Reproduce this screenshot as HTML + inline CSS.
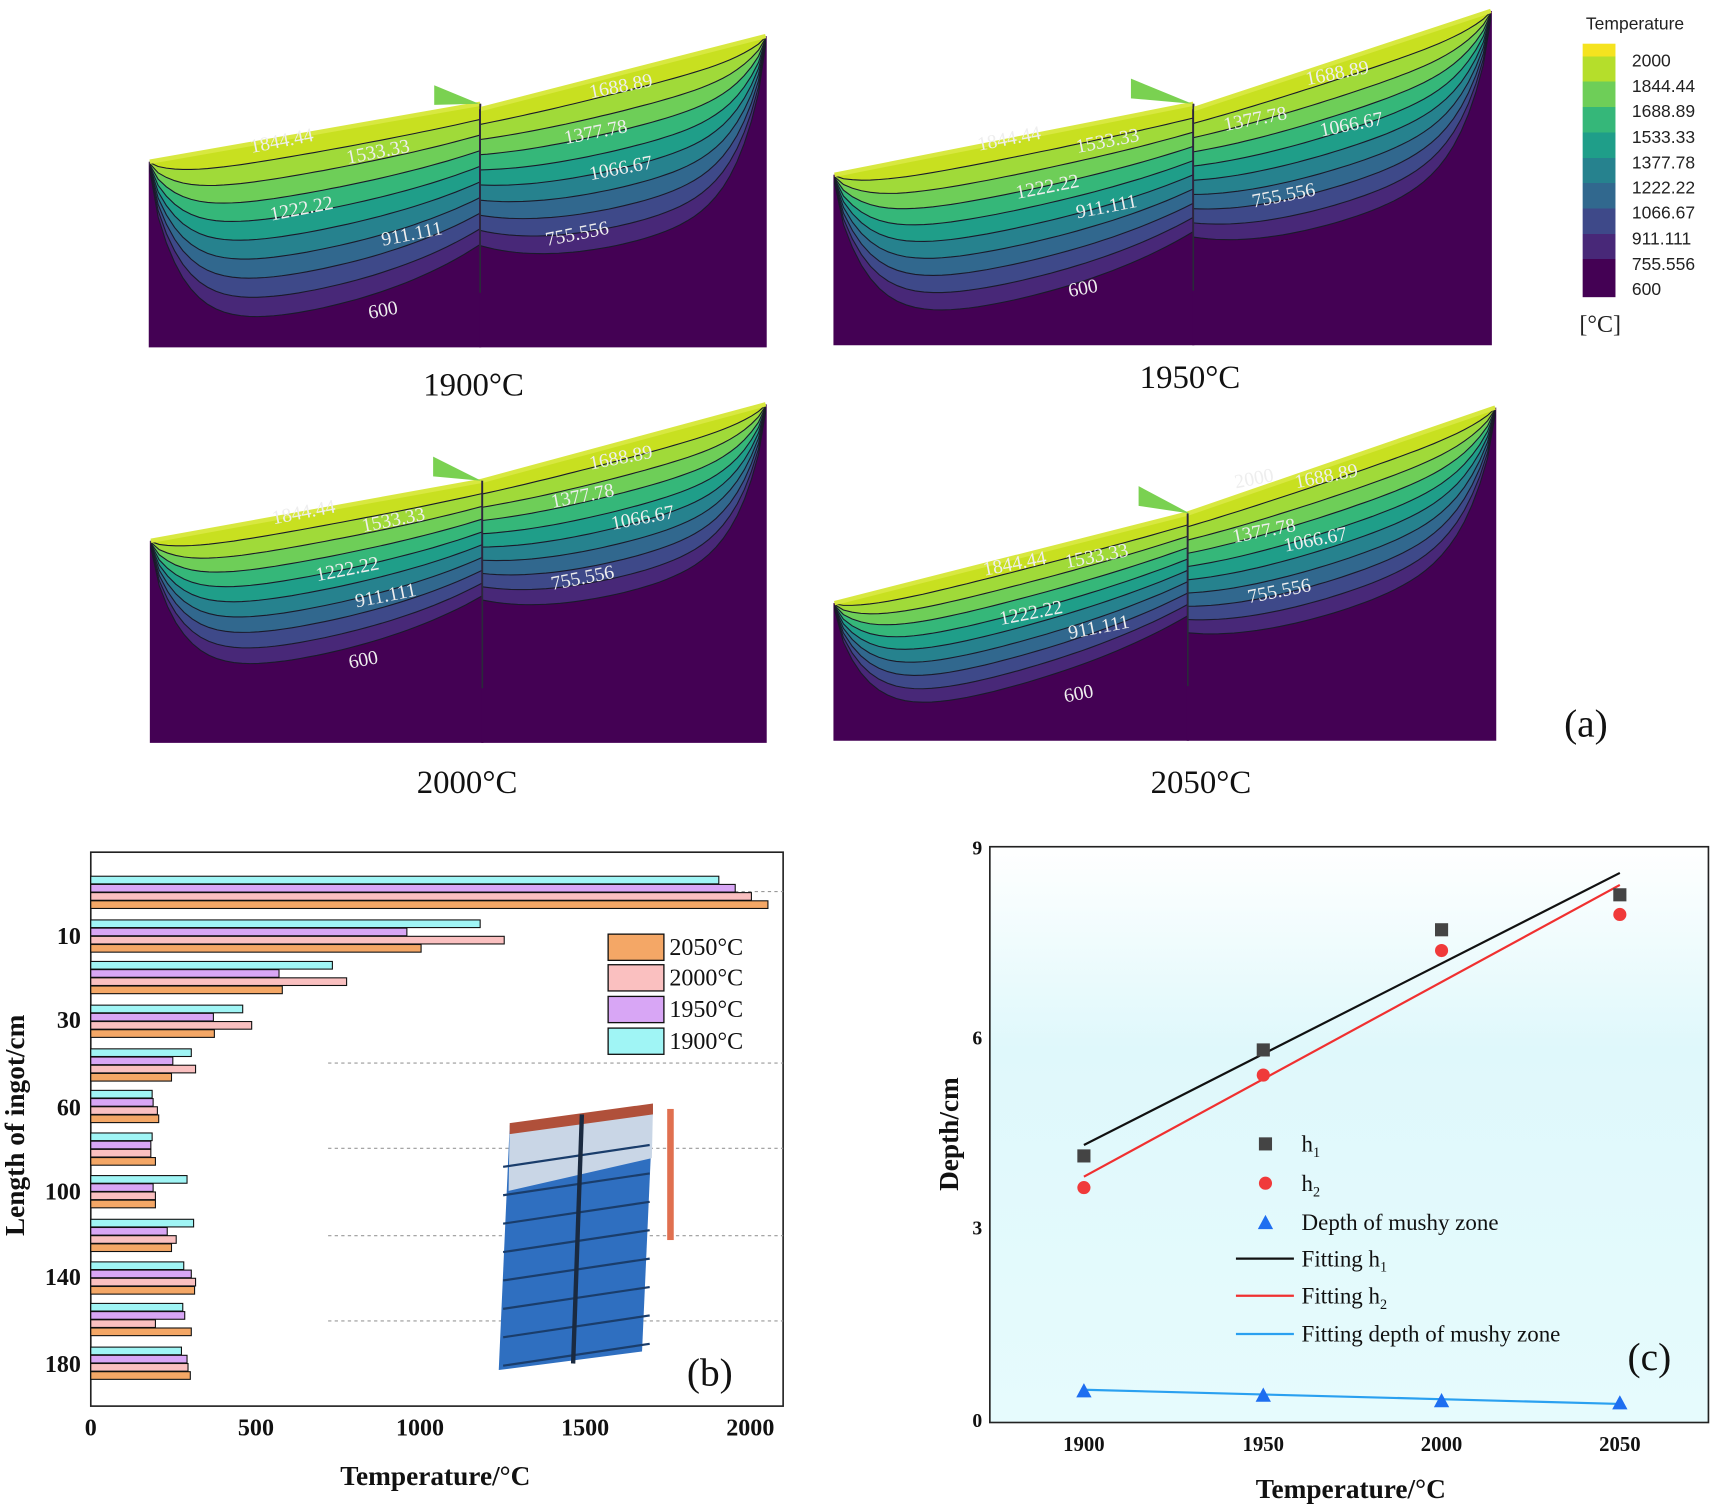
<!DOCTYPE html>
<html><head><meta charset="utf-8"><style>html,body{margin:0;padding:0;background:#fff}svg{display:block}</style></head>
<body>
<svg id="s" width="1715" height="1511" viewBox="0 0 1568 1383" preserveAspectRatio="none" xmlns="http://www.w3.org/2000/svg" font-family="Liberation Serif, serif">
<defs>
<linearGradient id="bgc" x1="0" y1="0" x2="0" y2="1"><stop offset="0" stop-color="#ffffff"/><stop offset="0.35" stop-color="#dff8fb"/><stop offset="1" stop-color="#e6fbfd"/></linearGradient>
<linearGradient id="cb" x1="0" y1="0" x2="0" y2="1">
<stop offset="0" stop-color="#f5e31f"/><stop offset="0.05" stop-color="#f5e31f"/><stop offset="0.05" stop-color="#b5de2b"/><stop offset="0.15" stop-color="#b5de2b"/><stop offset="0.15" stop-color="#6ece58"/><stop offset="0.25" stop-color="#6ece58"/><stop offset="0.25" stop-color="#35b779"/><stop offset="0.35" stop-color="#35b779"/><stop offset="0.35" stop-color="#1f9e89"/><stop offset="0.45" stop-color="#1f9e89"/><stop offset="0.45" stop-color="#26828e"/><stop offset="0.55" stop-color="#26828e"/><stop offset="0.55" stop-color="#31688e"/><stop offset="0.65" stop-color="#31688e"/><stop offset="0.65" stop-color="#3e4989"/><stop offset="0.75" stop-color="#3e4989"/><stop offset="0.75" stop-color="#482878"/><stop offset="0.85" stop-color="#482878"/><stop offset="0.85" stop-color="#440154"/><stop offset="1" stop-color="#440154"/></linearGradient>
</defs>
<g id="a"></g>
<g font-size="30" fill="#111" text-anchor="middle">
<text x="433" y="362">1900°C</text><text x="1088" y="355">1950°C</text>
<text x="427" y="726">2000°C</text><text x="1098" y="726">2050°C</text>
<text x="1450" y="674" font-size="36">(a)</text></g>
<rect x="1447" y="40" width="30" height="232" fill="url(#cb)"/>
<g font-family="Liberation Sans, sans-serif" font-size="16" fill="#222">
<text x="1450" y="27">Temperature</text>
<text x="1492" y="61">2000</text><text x="1492" y="84">1844.44</text><text x="1492" y="107">1688.89</text><text x="1492" y="131">1533.33</text><text x="1492" y="154">1377.78</text><text x="1492" y="177">1222.22</text><text x="1492" y="200">1066.67</text><text x="1492" y="224">911.111</text><text x="1492" y="247">755.556</text><text x="1492" y="270">600</text>
<text x="1444" y="304" font-family="Liberation Serif, serif" font-size="22">[°C]</text></g>

<rect x="83" y="780" width="633" height="507" fill="#fff" stroke="#222" stroke-width="1.5"/>
<g stroke="#999" stroke-dasharray="3,3" stroke-width="1">
<line x1="360" y1="816" x2="716" y2="816"/><line x1="300" y1="973" x2="716" y2="973"/><line x1="300" y1="1051" x2="716" y2="1051"/><line x1="300" y1="1131" x2="716" y2="1131"/><line x1="300" y1="1209" x2="716" y2="1209"/></g>
<g id="bars" stroke="#111" stroke-width="1"></g>
<g font-size="22" fill="#111" font-weight="bold" text-anchor="end">
<text x="74" y="864">10</text><text x="74" y="941">30</text><text x="74" y="1021">60</text><text x="74" y="1098">100</text><text x="74" y="1176">140</text><text x="74" y="1256">180</text></g>
<g font-size="22" fill="#111" font-weight="bold" text-anchor="middle">
<text x="83" y="1314">0</text><text x="234" y="1314">500</text><text x="384" y="1314">1000</text><text x="535" y="1314">1500</text><text x="686" y="1314">2000</text>
<text x="398" y="1359" font-size="25">Temperature/°C</text>
<text transform="translate(22,1030) rotate(-90)" font-size="25">Length of ingot/cm</text></g>
<g stroke="#111" stroke-width="1.2">
<rect x="556" y="855" width="51" height="24" fill="#f4a766"/><rect x="556" y="883" width="51" height="24" fill="#fac0c0"/><rect x="556" y="912" width="51" height="24" fill="#d8a6f5"/><rect x="556" y="941" width="51" height="24" fill="#a0f5f5"/></g>
<g font-size="22" fill="#111"><text x="612" y="874">2050°C</text><text x="612" y="902">2000°C</text><text x="612" y="931">1950°C</text><text x="612" y="960">1900°C</text>
<text x="628" y="1268" font-size="36">(b)</text></g>
<polygon points="456,1254 466,1030 597,1013 587,1237" fill="#2f6fc0"/>
<polygon points="466,1030 597,1013 596,1060 465,1090" fill="#c9d6e6"/>
<polygon points="466,1028 597,1010 597,1020 466,1038" fill="#b0503a"/>
<g stroke="#1a3d6b" stroke-width="2" id="inl"></g>
<line x1="532" y1="1020" x2="524" y2="1248" stroke="#1a2a40" stroke-width="4"/>
<rect x="610" y="1015" width="6" height="120" fill="#e07050"/>

<rect x="905" y="775" width="657" height="527" fill="url(#bgc)" stroke="#222" stroke-width="1.5"/>
<g font-size="18" fill="#111" font-weight="bold" text-anchor="end">
<text x="898" y="782">9</text><text x="898" y="956">6</text><text x="898" y="1130">3</text><text x="898" y="1306">0</text></g>
<g font-size="19" fill="#111" font-weight="bold" text-anchor="middle">
<text x="991" y="1328">1900</text><text x="1155" y="1328">1950</text><text x="1318" y="1328">2000</text><text x="1481" y="1328">2050</text>
<text x="1235" y="1371" font-size="25">Temperature/°C</text>
<text transform="translate(876,1038) rotate(-90)" font-size="25">Depth/cm</text></g>
<line x1="991" y1="1048" x2="1481" y2="799" stroke="#111" stroke-width="2"/>
<line x1="991" y1="1077" x2="1481" y2="810" stroke="#f03030" stroke-width="2"/>
<line x1="991" y1="1272" x2="1481" y2="1285" stroke="#2aa0f0" stroke-width="2"/>
<g fill="#444"><rect x="985" y="1052" width="12" height="12"/><rect x="1149" y="955" width="12" height="12"/><rect x="1312" y="845" width="12" height="12"/><rect x="1475" y="813" width="12" height="12"/><rect x="1151" y="1041" width="12" height="12"/></g>
<g fill="#f03a3a"><circle cx="991" cy="1087" r="6"/><circle cx="1155" cy="984" r="6"/><circle cx="1318" cy="870" r="6"/><circle cx="1481" cy="837" r="6"/><circle cx="1157" cy="1083" r="6"/></g>
<g fill="#1e6ef0"><polygon points="991,1266 984,1279 998,1279"/><polygon points="1155,1270 1148,1283 1162,1283"/><polygon points="1318,1275 1311,1288 1325,1288"/><polygon points="1481,1277 1474,1290 1488,1290"/><polygon points="1157,1112 1150,1125 1164,1125"/></g>
<line x1="1130" y1="1152" x2="1183" y2="1152" stroke="#111" stroke-width="2"/>
<line x1="1130" y1="1186" x2="1183" y2="1186" stroke="#f03030" stroke-width="2"/>
<line x1="1130" y1="1221" x2="1183" y2="1221" stroke="#2aa0f0" stroke-width="2"/>
<g font-size="21" fill="#111">
<text x="1190" y="1054">h<tspan font-size="13" dy="5">1</tspan></text>
<text x="1190" y="1090">h<tspan font-size="13" dy="5">2</tspan></text>
<text x="1190" y="1126">Depth of mushy zone</text>
<text x="1190" y="1159">Fitting h<tspan font-size="13" dy="5">1</tspan></text>
<text x="1190" y="1193">Fitting h<tspan font-size="13" dy="5">2</tspan></text>
<text x="1190" y="1228">Fitting depth of mushy zone</text>
<text x="1488" y="1254" font-size="36">(c)</text></g>
</svg>
<script>
var NS="http://www.w3.org/2000/svg";
function el(p,t,a){var e=document.createElementNS(NS,t);for(var k in a)e.setAttribute(k,a[k]);p.appendChild(e);return e;}
var cols=["#c8e020","#a0da39","#6ece58","#35b779","#1f9e89","#26828e","#31688e","#3e4989","#482878"];
var A=document.getElementById("a");
function block(x0,x1,yl,yr,yb,depth,mir){
  var N=40;function top(x){return yl+(yr-yl)*(x-x0)/(x1-x0);}
  el(A,"polygon",{points:(x0-1)+","+yl+" "+(x1+1)+","+yr+" "+(x1+1)+","+yb+" "+(x0-1)+","+yb,fill:"#440154"});
  for(var i=9;i>=1;i--){
    var D=depth*i/9,pts=[];
    for(var k=0;k<=N;k++){var x=x0+(x1-x0)*k/N,t=k/N;var u=mir?1-t:t;
      var g=(1-Math.exp(-u*10))*(1-0.25*Math.pow(u,4));var y=top(x)+D*(0.12+0.88*g);if(u<0.001)y=top(x)+D*0.05;
      pts.push(x.toFixed(1)+","+y.toFixed(1));}
    var poly=pts.slice();poly.push(x1+","+yr);poly.push(x0+","+yl);
    el(A,"polygon",{points:poly.join(" "),fill:cols[i-1]});
    el(A,"polyline",{points:pts.join(" "),fill:"none",stroke:"#1a1a2a","stroke-width":1});
  }
  el(A,"line",{x1:x0,y1:yl,x2:x1,y2:yr,stroke:"#d8e840","stroke-width":4});
}
block(137,439,148,95,318,165,false);block(439,700,100,33,318,160,true);
block(763,1091,160,95,316,150,false);block(1091,1363,100,10,316,150,true);
block(138,441,495,440,680,135,false);block(441,700,440,370,680,140,true);
block(763,1086,552,470,678,120,false);block(1086,1367,470,373,678,140,true);
[[439,95,318],[1091,95,316],[441,440,680],[1086,470,678]].forEach(function(d){el(A,"line",{x1:d[0],y1:d[1],x2:d[0],y2:d[2]-50,stroke:"#2a2a3a","stroke-width":1.5});});
[[397,78,438,95],[1034,72,1090,95],[396,418,440,440],[1041,445,1088,470]].forEach(function(f){el(A,"polygon",{points:f[0]+","+f[1]+" "+f[2]+","+f[3]+" "+f[0]+","+(f[1]+18),fill:"#7ad151"});});
var labs=[[230,140,"1844.44"],[318,150,"1533.33"],[248,202,"1222.22"],[350,225,"911.111"],[338,292,"600"],[540,90,"1688.89"],[517,132,"1377.78"],[540,165,"1066.67"],[500,225,"755.556"],
[895,138,"1844.44"],[985,140,"1533.33"],[930,182,"1222.22"],[985,200,"911.111"],[978,272,"600"],[1195,78,"1688.89"],[1120,120,"1377.78"],[1208,125,"1066.67"],[1146,190,"755.556"],
[250,480,"1844.44"],[332,487,"1533.33"],[290,532,"1222.22"],[326,556,"911.111"],[320,612,"600"],[540,430,"1688.89"],[505,465,"1377.78"],[560,485,"1066.67"],[505,540,"755.556"],
[900,527,"1844.44"],[975,520,"1533.33"],[915,572,"1222.22"],[978,585,"911.111"],[974,643,"600"],[1130,447,"2000"],[1185,447,"1688.89"],[1128,497,"1377.78"],[1175,505,"1066.67"],[1142,552,"755.556"]];
labs.forEach(function(l){var t=el(A,"text",{x:l[0],y:l[1],fill:"#eee","font-size":18,transform:"rotate(-11 "+l[0]+" "+l[1]+")"});t.textContent=l[2];});
var B=document.getElementById("bars");
var starts=[802,842,880,920,960,998,1037,1076,1116,1155,1193,1233];
var v=[[1905,1955,2004,2054],[1181,959,1254,1002],[733,571,776,581],[461,372,488,375],[305,249,318,245],[186,189,202,206],[186,182,182,196],[292,189,196,196],[312,232,259,245],[282,305,318,315],[279,285,196,305],[275,292,295,302]];
var bc=["#a0f5f5","#d8a6f5","#fac0c0","#f4a766"];
starts.forEach(function(s,g){for(var j=0;j<4;j++){el(B,"rect",{x:83,y:s+j*7.5,width:(v[g][j]*0.3014).toFixed(1),height:7,fill:bc[j]});}});
var I=document.getElementById("inl");
for(var k=0;k<8;k++){var y=1060+k*26;el(I,"line",{x1:460,y1:y+8,x2:594,y2:y-12});}
</script>
</body></html>
